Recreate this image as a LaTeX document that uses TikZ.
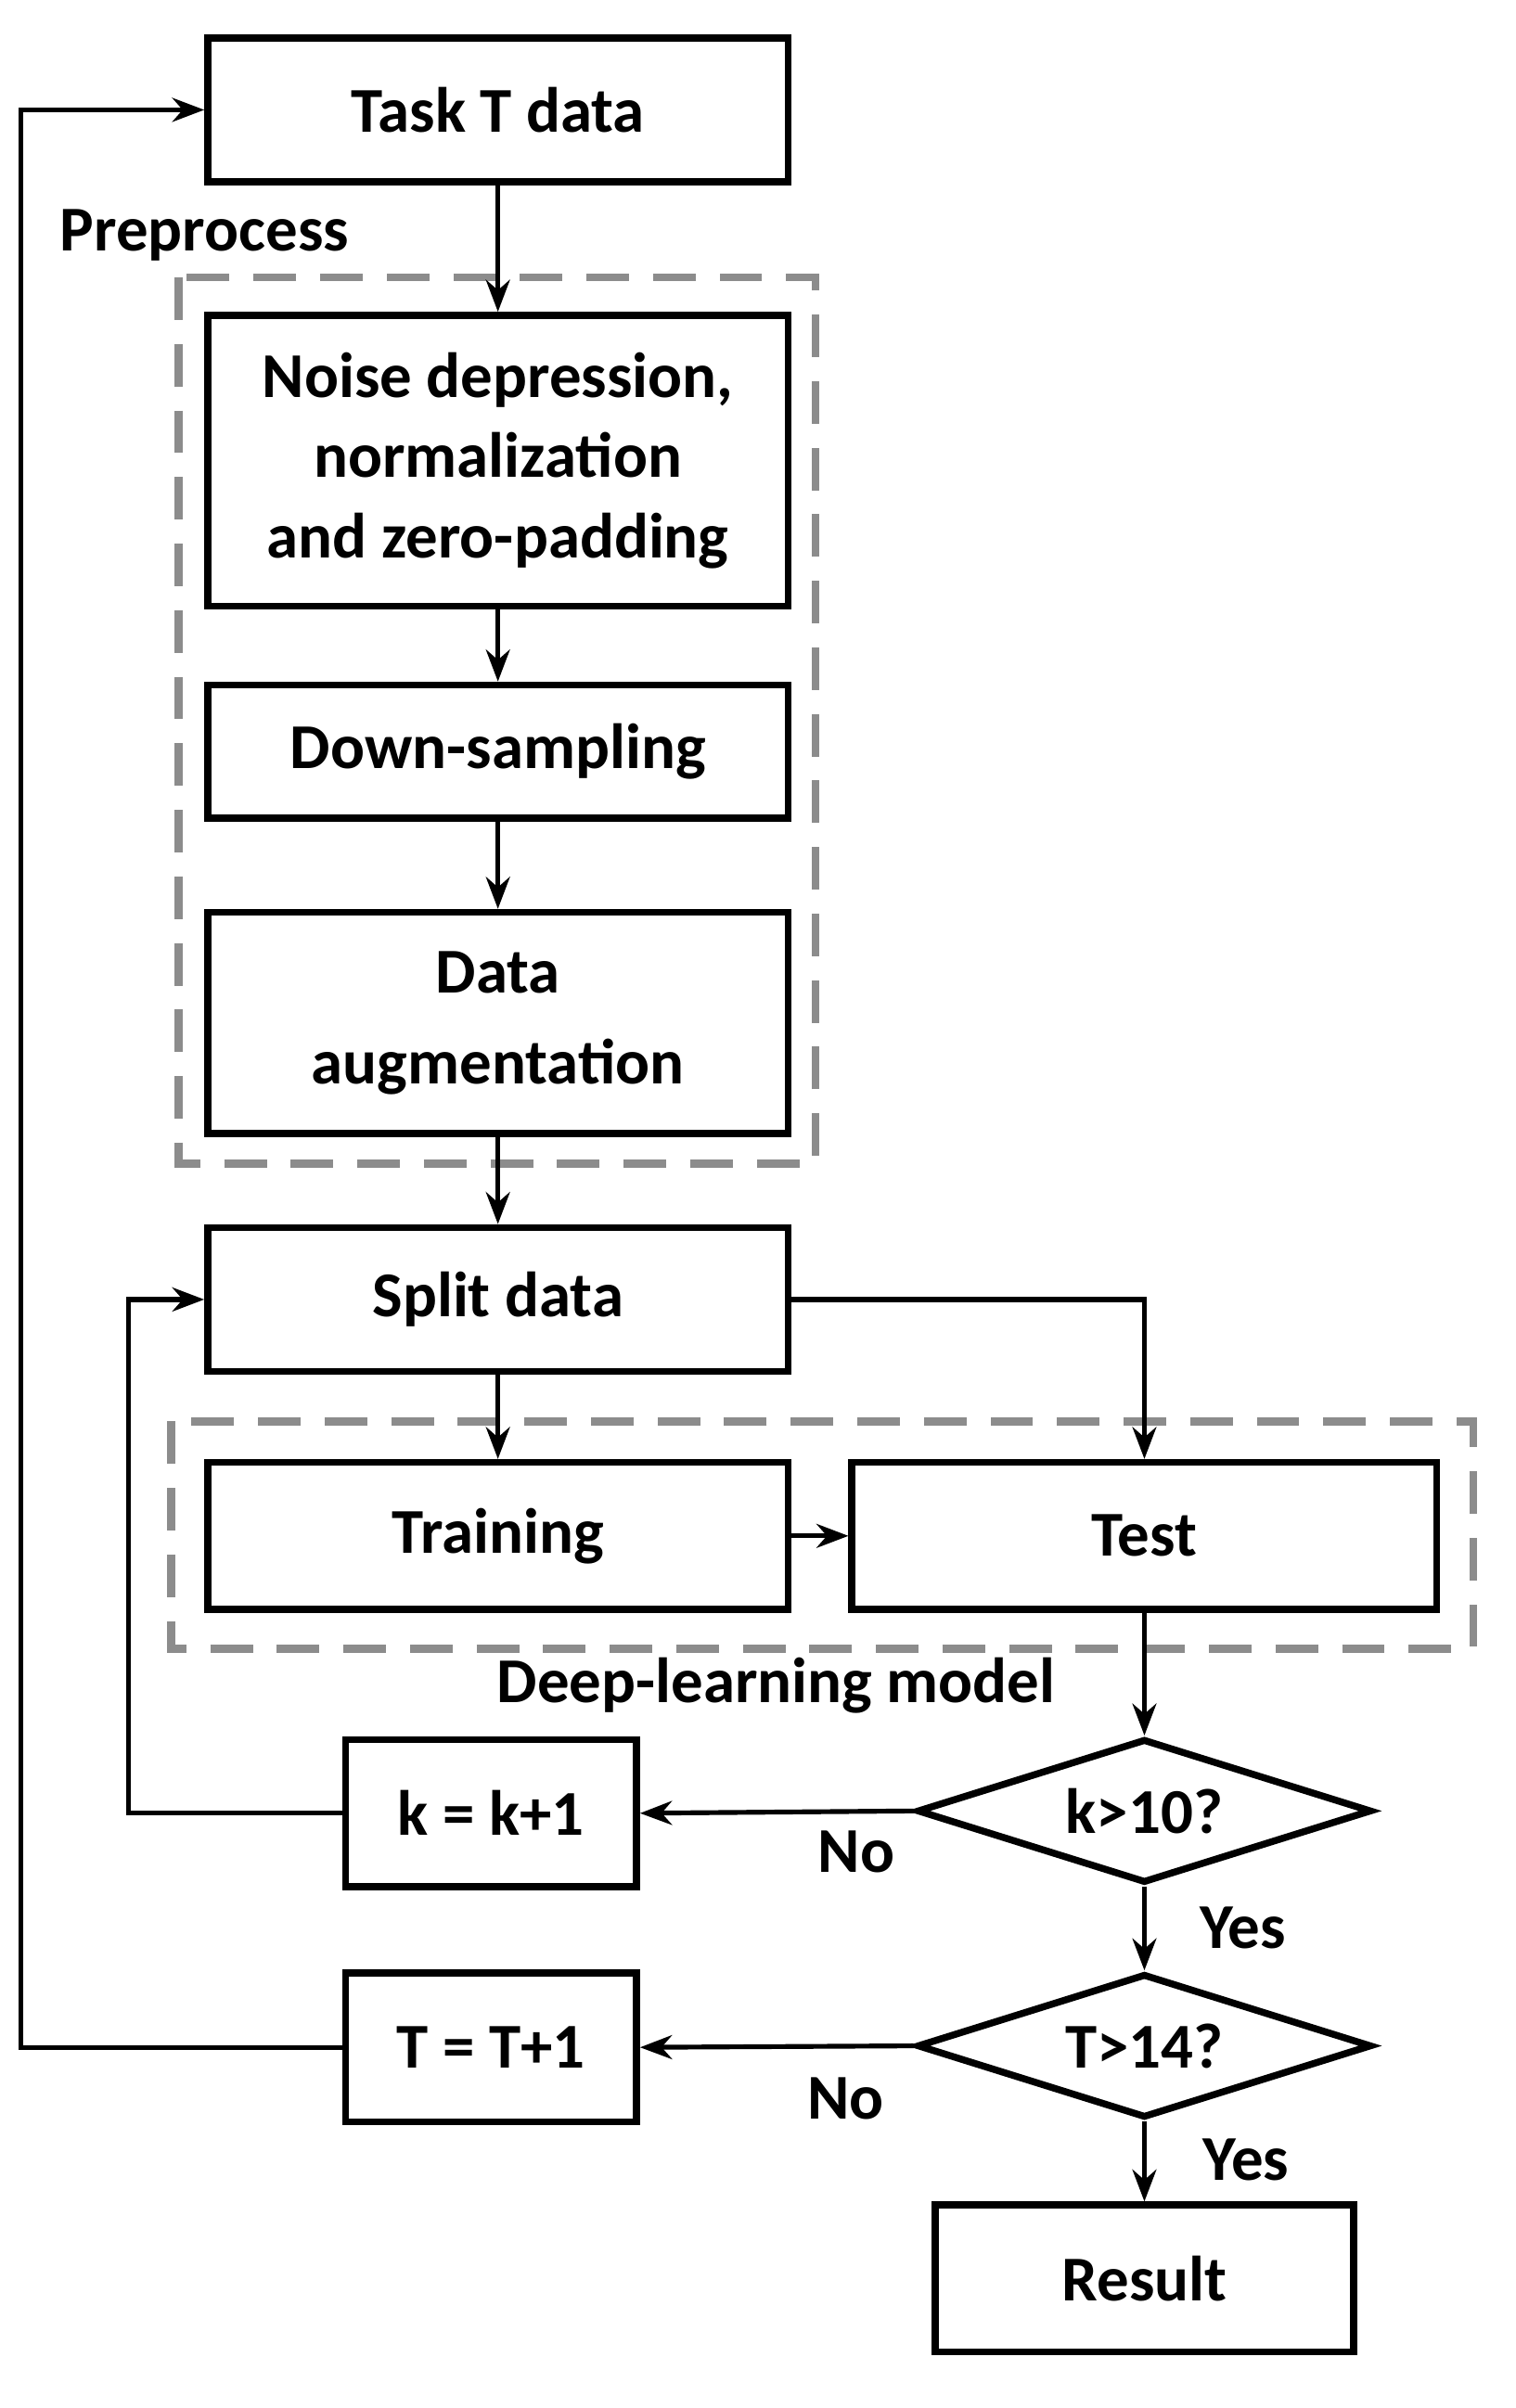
\documentclass[tikz,border=0pt]{standalone}
\usepackage{fontspec}
\setmainfont{Carlito}
\usetikzlibrary{shapes.geometric,arrows.meta}
\begin{document}
\begin{tikzpicture}[x=0.02cm,y=-0.02cm,
  every node/.style={font=\fontsize{24}{30}\selectfont\bfseries},
  box/.style={draw,line width=2.6pt,minimum width=7.66cm,align=center,inner sep=0pt},
  dia/.style={draw,diamond,line width=2.6pt,minimum width=6cm,minimum height=1.9cm,inner sep=0pt,aspect=3},
  arr/.style={-{Stealth[length=12pt,width=9pt]},line width=1.8pt},
  dashbox/.style={draw=gray!90,line width=3pt,dash pattern=on 16pt off 9pt}]
\useasboundingbox (0,0) rectangle (1000,1589);
\draw[dashbox] (118,183) rectangle (538,768);
\draw[dashbox] (113,938) rectangle (972,1088);
\node[box,minimum height=1.9cm] (task) at (328.5,72.5) {Task T data};
\node[box,minimum height=3.84cm] (noise) at (328.5,304) {Noise depression,\\normalization\\and zero-padding};
\node[box,minimum height=1.76cm] (down) at (328.5,496) {Down-sampling};
\node[box,minimum height=2.92cm] (aug) at (328.5,675) {Data\\[4pt]augmentation};
\node[box,minimum height=1.9cm] (split) at (328.5,857.5) {Split data};
\node[box,minimum height=1.94cm] (train) at (328.5,1013.5) {Training};
\node[box,minimum height=1.94cm,minimum width=7.72cm] (test) at (755,1013.5) {Test};
\node[box,minimum height=1.94cm,minimum width=3.84cm] (kbox) at (324,1196.5) {k = k+1};
\node[box,minimum height=1.96cm,minimum width=3.84cm] (tbox) at (324,1351) {T = T+1};
\node[box,minimum height=1.94cm,minimum width=5.52cm] (res) at (755,1503.5) {Result};
\node[dia] (k) at (755,1195) {k>10?};
\node[dia] (t) at (755,1350) {T>14?};
\node (pre) at (135,155) {Preprocess};
\node (dl) at (512,1112) {Deep-learning model};
\node (no1) at (565,1222) {No};
\node (yes1) at (820,1272) {Yes};
\node (no2) at (558,1385) {No};
\node (yes2) at (822,1425) {Yes};
\draw[arr] (task) -- (noise);
\draw[arr] (noise) -- (down);
\draw[arr] (down) -- (aug);
\draw[arr] (aug) -- (split);
\draw[arr] (split) -- (train);
\draw[arr] (train) -- (test);
\draw[arr] (split.east) -| (test.north);
\draw[arr] (test.south) -- (k.north);
\draw[arr] (k.south) -- (t.north);
\draw[arr] (t.south) -- (res.north);
\draw[arr] (k.west) -- (kbox.east);
\draw[arr] (t.west) -- (tbox.east);
\draw[arr] (kbox.west) -- (85,1196.5) |- (split.west);
\draw[arr] (tbox.west) -- (14,1351) |- (task.west);
\end{tikzpicture}
\end{document}
